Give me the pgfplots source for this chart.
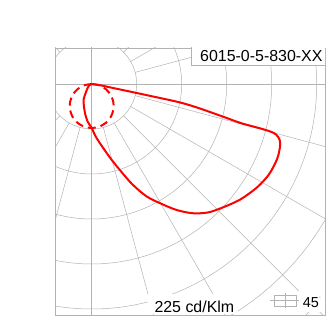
\documentclass[border=0pt]{standalone}
\usepackage{pgfplots}
\pgfplotsset{compat=1.18}
\usepackage{fontspec}
\setmainfont{Liberation Sans}
\begin{document}
\begin{tikzpicture}
\useasboundingbox (0,0) rectangle (326bp,318bp);
\begin{axis}[
  at={(55bp,3bp)}, anchor=south west,
  x=1bp, y=1bp,
  xmin=-36.7, xmax=233.3, ymin=-231, ymax=36,
  xtick=\empty, ytick=\empty,
  axis line style={gray!60, line width=0.6bp},
  clip=true,
]
% grid
\draw[gray!60, line width=0.5bp] (axis cs:-60,0) -- (axis cs:300,0);
\draw[gray!60, line width=0.5bp] (axis cs:0,-300) -- (axis cs:0,60);
\pgfplotsinvokeforeach{45,90,135,180,225,270,315,360}{
  \draw[gray!60, line width=0.5bp] (axis cs:0,0) circle[radius=#1bp];
}
\pgfplotsinvokeforeach{15,30,45,60,75,105,120,135,150,165,195,210,225,240,255,285,300,315,330,345}{
  \draw[gray!60, line width=0.5bp] (axis cs:{45*cos(#1)},{45*sin(#1)}) -- (axis cs:{450*cos(#1)},{450*sin(#1)});
}
% C90-C270 (dashed)
\addplot[red, line width=2bp, dash pattern=on 8bp off 5bp, smooth, data cs=polar] coordinates {
(-180,0) (-170,7.64) (-160,15.05) (-150,22) (-140,28.28) (-130,33.70) (-120,38.11) (-110,41.35) (-100,43.33)
(-90,44) (-80,43.33) (-70,41.35) (-60,38.11) (-50,33.70) (-40,28.28) (-30,22) (-20,15.05) (-10,7.64) (0,0)
};
% C0-C180 (solid)
\addplot[red, line width=2bp, smooth, tension=0.5, data cs=polar] coordinates {
(-180,0) (-150,3) (-135,6) (-125,10) (-118,17) (-110,23) (-102,31) (-96,38) (-90,44)
(-86,52) (-82,60) (-76,76) (-72,90) (-68,108) (-64,125) (-60,138) (-56,152) (-52,164)
(-48,173) (-44,179) (-38,188) (-32,195) (-27,199) (-22,200) (-18.5,198.5) (-16.5,196)
(-15.3,191) (-14.9,185) (-14.75,174) (-14.7,155) (-14,136) (-12.7,110) (-11.8,90)
(-11.5,60) (-11.2,40) (-10.5,20) (-8,8) (0,0)
};
% labels
\draw[gray!60, line width=0.5bp, fill=white] (axis cs:100,19) rectangle (axis cs:245,45);
\node[anchor=base east, inner sep=0pt, font=\fontsize{16}{19}\selectfont] at (axis cs:231,22.3) {6015-0-5-830-XX};
\fill[white] (axis cs:56.3,-210) rectangle (axis cs:146.3,-230.4);
\node[anchor=base west, inner sep=0pt, font=\fontsize{16}{19}\selectfont] at (axis cs:62.6,-228.7) {225 cd/Klm};
\fill[white] (axis cs:174.3,-207) rectangle (axis cs:233,-228);
\draw[gray!60, line width=0.5bp] (axis cs:182.6,-211) rectangle (axis cs:205,-222);
\draw[gray!60, line width=0.5bp] (axis cs:178.3,-216.7) -- (axis cs:207.3,-216.7);
\draw[gray!60, line width=0.5bp] (axis cs:193.3,-209.3) -- (axis cs:193.3,-224.3);
\node[anchor=base west, inner sep=0pt, font=\fontsize{14.5}{17}\selectfont] at (axis cs:211,-223.3) {45\textcolor{gray!70}{\raisebox{0.9ex}{\fontsize{5}{6}\selectfont °}}};
\end{axis}
\end{tikzpicture}
\end{document}
